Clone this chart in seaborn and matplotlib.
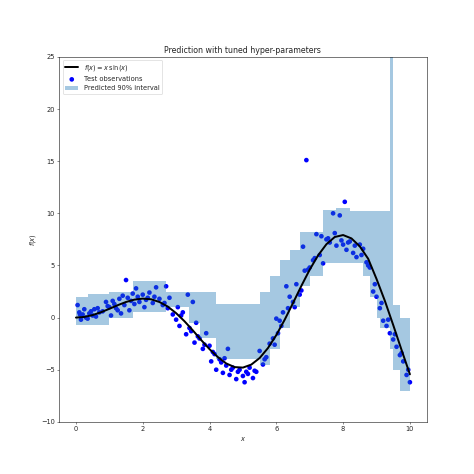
import matplotlib
matplotlib.use("Agg")
import matplotlib.pyplot as plt
import seaborn as sns

curve_x = [0.0,0.25,0.5,0.75,1.0,1.25,1.5,1.75,2.0,2.25,2.5,2.75,3.0,3.25,3.5,3.75,4.0,4.25,4.5,4.75,5.0,5.25,5.5,5.75,6.0,6.25,6.5,6.75,7.0,7.25,7.5,7.75,8.0,8.25,8.5,8.75,9.0,9.25,9.5,9.75,10.0]
curve_y = [0.0,0.062,0.240,0.511,0.841,1.186,1.496,1.722,1.819,1.754,1.496,1.054,0.423,-0.352,-1.228,-2.154,-3.027,-3.791,-4.399,-4.749,-4.795,-4.509,-3.880,-2.922,-1.676,-0.208,1.396,3.038,4.599,5.962,7.035,7.728,7.915,7.591,6.826,5.643,3.709,1.608,-0.713,-3.104,-5.440]

step_x = [0.0,0.35,1.0,1.7,2.7,3.4,3.7,4.2,5.5,5.8,6.1,6.4,6.7,7.0,7.4,7.8,8.2,8.6,8.8,9.0,9.1,9.4,9.5,9.7,10.0]
lower  = [-0.7,-0.7,0.0,0.5,1.0,-0.5,-2.0,-4.0,-4.5,-3.0,-1.0,1.0,3.0,4.0,5.2,5.2,5.2,4.0,2.0,0.0,-1.0,-3.0,-5.0,-7.0,-7.0]
upper  = [2.0,2.3,2.5,3.5,2.5,2.5,2.5,1.3,2.5,4.0,5.5,6.5,8.2,8.2,10.3,10.5,10.2,10.2,10.2,10.2,10.2,26.0,1.2,0.0,0.0]

obs_x = [0.05,0.1,0.15,0.2,0.25,0.3,0.35,0.4,0.5,0.55,0.6,0.7,0.8,0.9,1.0,1.05,1.1,1.2,1.3,1.35,1.4,1.45,1.5,1.55,1.6,1.7,1.75,1.8,1.9,2.0,2.05,2.1,2.2,2.3,2.4,2.5,2.6,2.7,2.75,2.8,2.9,3.0,3.05,3.1,3.2,3.3,3.35,3.4,3.5,3.55,3.6,3.7,3.8,3.9,4.0,4.05,4.1,4.2,4.3,4.4,4.5,4.55,4.6,4.7,4.8,4.9,5.0,5.05,5.1,5.2,5.3,5.4,5.5,5.6,5.7,5.8,5.9,6.0,6.05,6.1,6.2,6.3,6.4,6.5,6.6,6.7,6.8,6.85,6.9,7.0,7.1,7.2,7.3,7.4,7.5,7.6,7.7,7.8,7.9,8.0,8.05,8.1,8.2,8.3,8.4,8.5,8.6,8.7,8.8,8.9,9.0,9.1,9.2,9.3,9.4,9.5,9.6,9.7,9.8,9.9,10.0,
         0.12,0.45,0.65,0.95,1.15,1.25,1.65,1.85,2.15,2.35,2.65,3.15,3.45,3.65,3.85,4.15,4.35,4.45,4.65,4.85,5.15,5.35,5.65,5.95,6.15,6.35,6.55,6.75,6.95,7.15,7.35,7.55,7.75,7.95,8.15,8.35,8.55,8.75,8.95,9.15,9.35,9.55,9.75,9.95]
obs_y = [1.2,0.5,-0.2,0.3,0.8,0.0,-0.1,0.4,0.2,0.8,0.1,0.5,0.6,1.5,1.0,0.2,1.6,0.9,1.8,0.4,2.1,1.2,3.6,1.9,0.7,2.3,1.3,2.8,1.5,2.2,1.0,1.7,2.4,1.4,2.9,1.8,1.2,3.0,0.9,1.9,0.3,-0.2,1.0,-0.8,0.5,-1.6,2.2,-1.0,1.5,-2.4,-0.5,-2.0,-3.0,-1.5,-2.7,-4.2,-3.3,-5.0,-4.0,-5.3,-4.6,-3.0,-5.5,-4.8,-5.9,-5.0,-5.6,-6.2,-5.2,-4.8,-5.8,-5.2,-3.2,-4.5,-3.8,-2.5,-2.0,-0.1,-1.5,-0.3,0.5,3.0,2.0,1.5,3.2,2.2,6.8,4.5,15.1,4.8,5.5,8.0,6.0,5.2,7.5,7.2,10.0,6.9,9.8,7.0,11.1,6.5,7.3,6.2,5.8,7.0,6.6,5.3,4.8,2.5,2.0,0.9,-0.3,-0.8,-1.5,-2.1,-2.8,-3.6,-4.2,-5.5,-6.2,
         0.3,0.6,0.9,1.1,1.3,0.7,1.6,2.0,1.9,2.0,1.4,0.2,-1.3,-1.8,-2.6,-3.5,-4.3,-3.9,-5.0,-5.2,-5.4,-5.1,-4.0,-2.6,-0.8,0.9,1.0,2.6,4.6,5.7,7.8,7.6,8.1,7.4,7.2,6.9,6.0,5.0,3.2,1.4,-0.2,-1.6,-3.4,-5.0]

sns.set_style("white")
plt.rcParams['font.family'] = ['DejaVu Sans']
fig, ax = plt.subplots(figsize=(10, 10), dpi=47.4)
sns.lineplot(x=curve_x, y=curve_y, color="black", linewidth=3, label=r"$f(x) = x\,\sin(x)$", ax=ax)
sns.scatterplot(x=obs_x, y=obs_y, color="b", s=50, edgecolor="none", label="Test observations", ax=ax)
ax.fill_between(step_x, lower, upper, step="post", alpha=0.4, label="Predicted 90% interval", color="tab:blue", linewidth=0)
ax.set_xlabel("$x$")
ax.set_ylabel("$f(x)$")
ax.set_ylim(-10, 25)
ax.set_xlim(-0.5, 10.5)
ax.set_title("Prediction with tuned hyper-parameters")
ax.legend(loc="upper left")
for s in ax.spines.values():
    s.set_color("black")
ax.tick_params(left=True, bottom=True)
fig.savefig("out.png", dpi=47.4)
